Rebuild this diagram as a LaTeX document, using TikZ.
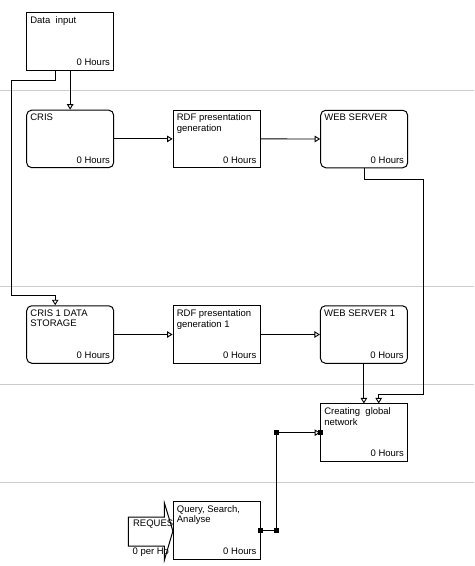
\documentclass[tikz,border=0pt]{standalone}
\usepackage{fontspec}
\setmainfont{Liberation Sans}
\usetikzlibrary{arrows.meta}
\newcommand\dfont{\fontsize{9.5}{10.7}\selectfont}
\tikzset{
 box/.style={draw, line width=1pt, minimum width=87pt, minimum height=57.5pt, inner sep=0pt, fill=white},
 rbox/.style={box, rounded corners=5pt},
 title/.style={anchor=north west, align=left, inner sep=0pt, xshift=4pt, yshift=-4pt, font=\dfont},
 hours/.style={anchor=base east, inner sep=0pt, xshift=-4pt, yshift=5pt, font=\dfont},
 conn/.style={line width=0.9pt, -{Triangle[open,length=5.5pt,width=6.5pt]}},
 sq/.style={fill=black, minimum size=5pt, inner sep=0pt},
 sepline/.style={draw=gray!40, line width=0.8pt},
 txt/.style={font=\dfont, anchor=base west, inner sep=0pt}
}
\begin{document}
\begin{tikzpicture}[x=1pt,y=-1pt]
\fill[white] (0,0) rectangle (474,566);
\foreach \yy in {90,286,384,482} \draw[sepline] (0,\yy) -- (474,\yy);
% request arrow shape
\draw[line width=1pt] (128,517) -- (164,517) -- (164,503) -- (172.5,531) -- (164,560) -- (164,546) -- (128,546) -- cycle;
\node[txt] (req) at (132.5,526) {REQUES};
\node[txt] (reqrate) at (132,554) {0 per Ho};
% boxes
\node[box] (din) at (69.75,41.3) {};
\node[rbox] (cris) at (69.75,138.9) {};
\node[box] (rdf) at (216.25,138.9) {};
\node[rbox] (ws) at (363.8,139) {};
\node[rbox] (cris1) at (69.8,334.5) {};
\node[box] (rdf1) at (216.2,334.5) {};
\node[rbox] (ws1) at (363.5,334.5) {};
\node[box] (cgn) at (363.7,432.7) {};
\node[box] (qsa) at (216.3,530.3) {};
% titles
\node[title] at (din.north west) {Data~ input};
\node[title] at (cris.north west) {CRIS};
\node[title] at (rdf.north west) {RDF presentation\\generation};
\node[title] at (ws.north west) {WEB SERVER};
\node[title] at (cris1.north west) {CRIS 1 DATA\\STORAGE};
\node[title] at (rdf1.north west) {RDF presentation\\generation 1};
\node[title] at (ws1.north west) {WEB SERVER 1};
\node[title] at (cgn.north west) {Creating~ global\\network};
\node[title] at (qsa.north west) {Query, Search,\\Analyse};
\foreach \b in {din,cris,rdf,ws,cris1,rdf1,ws1,cgn,qsa}
  \node[hours] at (\b.south east) {0 Hours};
% connectors
\draw[conn] (din.south) -- (cris.north);
\draw[conn] ([xshift=-15pt]din.south) -- ++(0,10) -| (11,295) -| ([xshift=-15pt]cris1.north);
\draw[conn] (cris.east) -- (rdf.west);
\draw[conn] (rdf.east) -- (ws.west);
\draw[conn] (cris1.east) -- (rdf1.west);
\draw[conn] (rdf1.east) -- (ws1.west);
\draw[conn] (ws.south) -- ++(0,11) -| (423,394) -| ([xshift=14.6pt]cgn.north);
\draw[conn] (ws1.south) -- (ws1.south |- cgn.north);
\coordinate (b1) at (276,530.3);
\coordinate (b2) at (276,432.7);
\draw[conn] (qsa.east) -- (b1) -- (b2) -- (cgn.west);
\node[sq] at (qsa.east) {};
\node[sq] at (b1) {};
\node[sq] at (b2) {};
\node[sq] at (cgn.west) {};
\end{tikzpicture}
\end{document}
